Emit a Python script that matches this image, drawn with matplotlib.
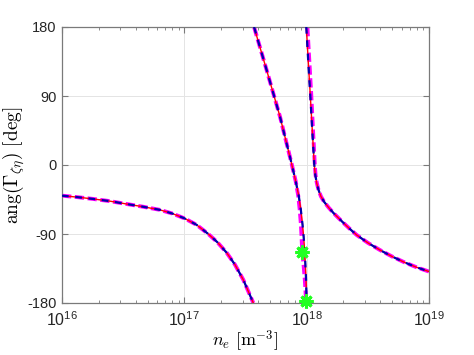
import numpy as np
import matplotlib
matplotlib.use("Agg")
import matplotlib.pyplot as plt
from matplotlib.ticker import FixedLocator, LogLocator, NullFormatter

# ---- data (log10 of n_e, phase in deg) ----
b1_log = [16.000, 16.13, 16.256, 16.39, 16.529, 16.665, 16.80, 16.90, 17.000, 17.10, 17.196,
          17.27, 17.346, 17.414, 17.482, 17.564]
b1_deg = [-40.0, -42.0, -44.3, -47.1, -50.9, -54.5, -58.5, -63.2, -69.5, -78.0, -90.0,
          -100.7, -114.4, -130.0, -149.7, -180.0]

b2_log = [17.570, 17.676, 17.782, 17.830, 17.875, 17.910, 17.935, 17.952, 17.965, 17.975,
          17.983, 17.990, 17.995, 18.000]
b2_deg = [180.0, 122.0, 63.0, 32.0, 3.0, -21.0, -40.0, -58.0, -76.0, -93.0,
          -111.0, -131.0, -150.0, -180.0]

b3_log = [17.997, 18.013, 18.030, 18.046, 18.0625, 18.0706, 18.082, 18.097, 18.117, 18.144,
          18.179, 18.219, 18.260, 18.300, 18.354, 18.409, 18.500, 18.600, 18.700, 18.800,
          18.900, 19.000]
b3_deg = [180.0, 135.0, 90.0, 45.0, 0.0, -13.0, -23.5, -32.6, -41.1, -48.3,
          -55.4, -62.6, -69.1, -75.4, -83.5, -91.3, -101.5, -111.0, -119.5, -127.0,
          -133.5, -139.0]

# second model (magenta) differs slightly near the resonance
m2_log = [17.570, 17.676, 17.782, 17.830, 17.875, 17.910, 17.931, 17.943, 17.952, 17.958,
          17.963, 17.975, 17.985, 17.996]
m2_deg = b2_deg
m3_log = [18.006, 18.022, 18.038, 18.052, 18.0665, 18.0726, 18.083, 18.097, 18.117, 18.144,
          18.179, 18.219, 18.260, 18.300, 18.354, 18.409, 18.500, 18.600, 18.700, 18.800,
          18.900, 19.000]
m3_deg = b3_deg

star_log = [17.962, 17.995]
star_deg = [-113.0, -178.0]

xtick_exp = [16, 17, 18, 19]
yticks = [-180, -90, 0, 90, 180]

plt.rcParams['font.family'] = ['Liberation Sans', 'DejaVu Sans']
plt.rcParams['mathtext.fontset'] = 'cm'

fig = plt.figure(figsize=(4.74, 3.55), dpi=100)
ax = fig.add_axes([62/474, 1-303/355, (429-62)/474, (303-27)/355])

def X(l):
    return 10.0 ** np.asarray(l)

for (ml, md) in [(b1_log, b1_deg), (m2_log, m2_deg), (m3_log, m3_deg)]:
    ax.plot(X(ml), md, color='#ff00ff', lw=2.8, ls=(0, (2.4, 0.9)), zorder=2,
            solid_joinstyle='round', dash_joinstyle='round')
for (bl, bd) in [(b1_log, b1_deg), (b2_log, b2_deg), (b3_log, b3_deg)]:
    ax.plot(X(bl), bd, color='#ff0000', lw=1.0, ls='-', zorder=3)
    ax.plot(X(bl), bd, color='#0000b0', lw=1.6, ls=(0, (3.0, 3.0)), zorder=4)

ax.plot(X(star_log), star_deg, ls='none', marker=(8, 2, 0), ms=10, mew=2.2,
        color='#22ff22', zorder=5, clip_on=False)

ax.set_xscale('log')
ax.set_xlim(1e16, 1e19)
ax.set_ylim(-180, 180)
ax.xaxis.set_major_locator(FixedLocator([10.0**e for e in xtick_exp]))
ax.set_xticklabels([r'$\mathregular{10^{%d}}$' % e for e in xtick_exp])
ax.xaxis.set_minor_locator(LogLocator(base=10, subs=np.arange(2, 10)))
ax.xaxis.set_minor_formatter(NullFormatter())
ax.set_yticks(yticks)
ax.set_yticklabels([str(v) for v in yticks])

ax.grid(True, which='major', color='#e4e4e4', lw=0.7)
ax.set_axisbelow(True)
for s in ax.spines.values():
    s.set_color('#7a7a7a')
    s.set_linewidth(0.9)
ax.tick_params(which='both', direction='in', top=True, right=True, colors='#7a7a7a',
               labelcolor='#262626')
ax.tick_params(axis='y', labelsize=10.5)
ax.tick_params(axis='x', labelsize=11.5)
ax.tick_params(which='major', length=4, pad=4)
ax.tick_params(which='minor', length=2.5)
ax.tick_params(axis='x', which='major', pad=5)

ax.set_xlabel(r'$n_e\ [\mathrm{m}^{-3}]$', fontsize=13, labelpad=0)
ax.set_ylabel(r'$\mathrm{ang}\left(\mathbf{\Gamma}_{\zeta\eta}\right)\ [\mathrm{deg}]$', fontsize=14, labelpad=0)

fig.savefig('out.png', dpi=100)
